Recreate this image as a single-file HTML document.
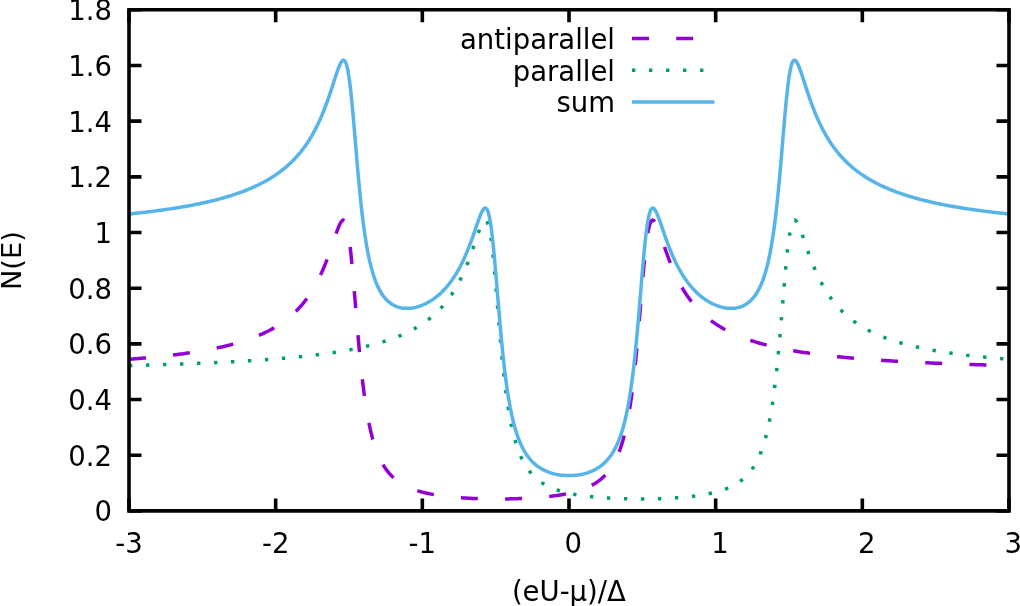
<!DOCTYPE html><html><head><meta charset="utf-8"><style>html,body{margin:0;padding:0;background:#fff;overflow:hidden}svg{display:block}</style></head><body><svg width="1020" height="606" viewBox="0 0 1020 606">
<rect width="1020" height="606" fill="#fff"/>
<path d="M129.00,510.90V498.40M129.00,9.80V22.30M275.67,510.90V498.40M275.67,9.80V22.30M422.33,510.90V498.40M422.33,9.80V22.30M569.00,510.90V498.40M569.00,9.80V22.30M715.67,510.90V498.40M715.67,9.80V22.30M862.33,510.90V498.40M862.33,9.80V22.30M1009.00,510.90V498.40M1009.00,9.80V22.30M129.00,510.90H141.50M1009.00,510.90H996.50M129.00,455.22H141.50M1009.00,455.22H996.50M129.00,399.54H141.50M1009.00,399.54H996.50M129.00,343.87H141.50M1009.00,343.87H996.50M129.00,288.19H141.50M1009.00,288.19H996.50M129.00,232.51H141.50M1009.00,232.51H996.50M129.00,176.83H141.50M1009.00,176.83H996.50M129.00,121.16H141.50M1009.00,121.16H996.50M129.00,65.48H141.50M1009.00,65.48H996.50M129.00,9.80H141.50M1009.00,9.80H996.50" stroke="#000" stroke-width="3.6" fill="none"/>
<g font-family="DejaVu Sans, Liberation Sans, sans-serif" font-size="27.5" fill="#000"><text x="112.00" y="521.40" text-anchor="end">0</text><text x="112.00" y="465.72" text-anchor="end">0.2</text><text x="112.00" y="410.04" text-anchor="end">0.4</text><text x="112.00" y="354.37" text-anchor="end">0.6</text><text x="112.00" y="298.69" text-anchor="end">0.8</text><text x="112.00" y="243.01" text-anchor="end">1</text><text x="112.00" y="187.33" text-anchor="end">1.2</text><text x="112.00" y="131.66" text-anchor="end">1.4</text><text x="112.00" y="75.98" text-anchor="end">1.6</text><text x="112.00" y="20.30" text-anchor="end">1.8</text><text x="129.00" y="553.00" text-anchor="middle">-3</text><text x="275.67" y="553.00" text-anchor="middle">-2</text><text x="422.33" y="553.00" text-anchor="middle">-1</text><text x="573.37" y="553.00" text-anchor="middle">0</text><text x="720.04" y="553.00" text-anchor="middle">1</text><text x="866.70" y="553.00" text-anchor="middle">2</text><text x="1013.37" y="553.00" text-anchor="middle">3</text><text x="568.90" y="601.30" text-anchor="middle">(eU-μ)/Δ</text><text transform="translate(21.00,260.60) rotate(-90)" text-anchor="middle" font-size="27.3">N(E)</text><text x="615.00" y="49.00" text-anchor="end">antiparallel</text><text x="615.00" y="80.70" text-anchor="end">parallel</text><text x="615.00" y="112.40" text-anchor="end">sum</text></g>
<path d="M129.00,359.27 L130.47,359.16 L131.93,359.04 L133.40,358.93 L134.87,358.81 L136.33,358.69 L137.80,358.57 L139.27,358.44 L140.73,358.32 L142.20,358.19 L143.67,358.06 L145.13,357.93 L146.60,357.80 L148.07,357.67 L149.53,357.53 L151.00,357.39 L152.47,357.25 L153.93,357.11 L155.40,356.97 L156.87,356.82 L158.33,356.67 L159.80,356.52 L161.27,356.36 L162.73,356.21 L164.20,356.05 L165.67,355.88 L167.13,355.72 L168.60,355.55 L170.07,355.38 L171.53,355.21 L173.00,355.03 L174.47,354.85 L175.93,354.67 L177.40,354.49 L178.87,354.30 L180.33,354.11 L181.80,353.91 L183.27,353.72 L184.73,353.51 L186.20,353.31 L187.67,353.10 L189.13,352.89 L190.60,352.67 L192.07,352.45 L193.53,352.22 L195.00,351.99 L196.47,351.76 L197.93,351.52 L199.40,351.28 L200.87,351.03 L202.33,350.78 L203.80,350.53 L205.27,350.26 L206.73,350.00 L208.20,349.72 L209.67,349.45 L211.13,349.16 L212.60,348.87 L214.07,348.58 L215.53,348.28 L217.00,347.97 L218.47,347.65 L219.93,347.33 L221.40,347.00 L222.87,346.67 L224.33,346.33 L225.80,345.98 L227.27,345.62 L228.73,345.25 L230.20,344.88 L231.67,344.49 L233.13,344.10 L234.60,343.70 L236.07,343.29 L237.53,342.87 L239.00,342.44 L240.47,341.99 L241.93,341.54 L243.40,341.08 L244.87,340.60 L246.33,340.11 L247.80,339.61 L249.27,339.10 L250.73,338.57 L252.20,338.03 L253.67,337.47 L255.13,336.90 L256.60,336.31 L258.07,335.71 L259.53,335.09 L261.00,334.45 L262.47,333.79 L263.93,333.11 L265.40,332.42 L266.87,331.70 L268.33,330.96 L269.80,330.20 L271.27,329.41 L272.73,328.60 L274.20,327.76 L275.67,326.89 L277.13,326.00 L278.60,325.07 L280.07,324.12 L281.53,323.13 L283.00,322.10 L284.47,321.04 L285.93,319.94 L287.40,318.80 L288.87,317.61 L290.33,316.39 L291.80,315.11 L293.27,313.78 L294.73,312.40 L296.20,310.97 L297.67,309.47 L299.13,307.91 L300.60,306.29 L302.07,304.59 L303.53,302.82 L305.00,300.97 L306.47,299.04 L307.93,297.01 L309.40,294.89 L310.87,292.67 L312.33,290.34 L313.80,287.90 L315.27,285.34 L316.73,282.64 L318.20,279.81 L319.67,276.84 L321.13,273.72 L322.60,270.44 L324.07,267.00 L325.53,263.40 L327.00,259.63 L328.47,255.70 L329.93,251.63 L331.40,247.43 L332.87,243.13 L334.33,238.80 L335.80,234.52 L337.27,230.41 L338.73,226.63 L340.20,223.43 L341.67,221.11 L343.13,220.07 L344.60,220.77 L346.07,223.71 L347.53,229.35 L349.00,238.00 L350.47,249.67 L351.93,264.04 L353.40,280.44 L354.87,298.02 L356.33,315.86 L357.80,333.23 L359.27,349.56 L360.73,364.56 L362.20,378.10 L363.67,390.17 L365.13,400.86 L366.60,410.29 L368.07,418.60 L369.53,425.93 L371.00,432.39 L372.47,438.12 L373.93,443.19 L375.40,447.71 L376.87,451.75 L378.33,455.36 L379.80,458.61 L381.27,461.55 L382.73,464.20 L384.20,466.61 L385.67,468.80 L387.13,470.80 L388.60,472.63 L390.07,474.31 L391.53,475.85 L393.00,477.28 L394.47,478.59 L395.93,479.81 L397.40,480.94 L398.87,481.99 L400.33,482.97 L401.80,483.88 L403.27,484.74 L404.73,485.53 L406.20,486.28 L407.67,486.98 L409.13,487.64 L410.60,488.26 L412.07,488.84 L413.53,489.39 L415.00,489.91 L416.47,490.40 L417.93,490.87 L419.40,491.31 L420.87,491.72 L422.33,492.12 L423.80,492.49 L425.27,492.85 L426.73,493.18 L428.20,493.50 L429.67,493.81 L431.13,494.10 L432.60,494.37 L434.07,494.64 L435.53,494.89 L437.00,495.12 L438.47,495.35 L439.93,495.57 L441.40,495.77 L442.87,495.97 L444.33,496.16 L445.80,496.34 L447.27,496.51 L448.73,496.67 L450.20,496.82 L451.67,496.97 L453.13,497.11 L454.60,497.25 L456.07,497.37 L457.53,497.49 L459.00,497.61 L460.47,497.72 L461.93,497.82 L463.40,497.92 L464.87,498.01 L466.33,498.10 L467.80,498.18 L469.27,498.26 L470.73,498.34 L472.20,498.41 L473.67,498.47 L475.13,498.53 L476.60,498.59 L478.07,498.64 L479.53,498.69 L481.00,498.73 L482.47,498.77 L483.93,498.81 L485.40,498.84 L486.87,498.87 L488.33,498.90 L489.80,498.92 L491.27,498.94 L492.73,498.95 L494.20,498.96 L495.67,498.97 L497.13,498.97 L498.60,498.97 L500.07,498.97 L501.53,498.96 L503.00,498.95 L504.47,498.94 L505.93,498.92 L507.40,498.90 L508.87,498.88 L510.33,498.85 L511.80,498.82 L513.27,498.78 L514.73,498.74 L516.20,498.70 L517.67,498.65 L519.13,498.60 L520.60,498.54 L522.07,498.48 L523.53,498.42 L525.00,498.35 L526.47,498.28 L527.93,498.20 L529.40,498.12 L530.87,498.03 L532.33,497.94 L533.80,497.84 L535.27,497.74 L536.73,497.63 L538.20,497.52 L539.67,497.40 L541.13,497.27 L542.60,497.14 L544.07,497.00 L545.53,496.85 L547.00,496.70 L548.47,496.54 L549.93,496.37 L551.40,496.19 L552.87,496.01 L554.33,495.81 L555.80,495.61 L557.27,495.40 L558.73,495.17 L560.20,494.94 L561.67,494.69 L563.13,494.43 L564.60,494.15 L566.07,493.87 L567.53,493.57 L569.00,493.25 L570.47,492.92 L571.93,492.56 L573.40,492.19 L574.87,491.80 L576.33,491.39 L577.80,490.96 L579.27,490.50 L580.73,490.01 L582.20,489.50 L583.67,488.96 L585.13,488.38 L586.60,487.77 L588.07,487.12 L589.53,486.42 L591.00,485.69 L592.47,484.90 L593.93,484.06 L595.40,483.16 L596.87,482.19 L598.33,481.16 L599.80,480.04 L601.27,478.84 L602.73,477.55 L604.20,476.15 L605.67,474.63 L607.13,472.97 L608.60,471.18 L610.07,469.21 L611.53,467.06 L613.00,464.70 L614.47,462.10 L615.93,459.23 L617.40,456.04 L618.87,452.50 L620.33,448.56 L621.80,444.14 L623.27,439.18 L624.73,433.60 L626.20,427.29 L627.67,420.14 L629.13,412.04 L630.60,402.84 L632.07,392.42 L633.53,380.63 L635.00,367.39 L636.47,352.68 L637.93,336.59 L639.40,319.39 L640.87,301.59 L642.33,283.89 L643.80,267.18 L645.27,252.34 L646.73,240.09 L648.20,230.83 L649.67,224.61 L651.13,221.16 L652.60,220.05 L654.07,220.78 L655.53,222.88 L657.00,225.93 L658.47,229.62 L659.93,233.68 L661.40,237.94 L662.87,242.27 L664.33,246.57 L665.80,250.80 L667.27,254.90 L668.73,258.86 L670.20,262.66 L671.67,266.30 L673.13,269.77 L674.60,273.08 L676.07,276.23 L677.53,279.23 L679.00,282.09 L680.47,284.81 L681.93,287.40 L683.40,289.86 L684.87,292.22 L686.33,294.46 L687.80,296.60 L689.27,298.64 L690.73,300.59 L692.20,302.46 L693.67,304.25 L695.13,305.96 L696.60,307.59 L698.07,309.17 L699.53,310.67 L701.00,312.12 L702.47,313.51 L703.93,314.85 L705.40,316.13 L706.87,317.37 L708.33,318.57 L709.80,319.71 L711.27,320.82 L712.73,321.89 L714.20,322.92 L715.67,323.92 L717.13,324.88 L718.60,325.82 L720.07,326.72 L721.53,327.59 L723.00,328.43 L724.47,329.25 L725.93,330.04 L727.40,330.81 L728.87,331.55 L730.33,332.28 L731.80,332.98 L733.27,333.66 L734.73,334.32 L736.20,334.96 L737.67,335.59 L739.13,336.19 L740.60,336.78 L742.07,337.36 L743.53,337.92 L745.00,338.46 L746.47,338.99 L747.93,339.51 L749.40,340.01 L750.87,340.50 L752.33,340.98 L753.80,341.45 L755.27,341.90 L756.73,342.35 L758.20,342.78 L759.67,343.20 L761.13,343.62 L762.60,344.02 L764.07,344.42 L765.53,344.80 L767.00,345.18 L768.47,345.55 L769.93,345.90 L771.40,346.26 L772.87,346.60 L774.33,346.94 L775.80,347.27 L777.27,347.59 L778.73,347.91 L780.20,348.22 L781.67,348.52 L783.13,348.81 L784.60,349.11 L786.07,349.39 L787.53,349.67 L789.00,349.94 L790.47,350.21 L791.93,350.47 L793.40,350.73 L794.87,350.98 L796.33,351.23 L797.80,351.48 L799.27,351.71 L800.73,351.95 L802.20,352.18 L803.67,352.40 L805.13,352.63 L806.60,352.84 L808.07,353.06 L809.53,353.27 L811.00,353.47 L812.47,353.67 L813.93,353.87 L815.40,354.07 L816.87,354.26 L818.33,354.45 L819.80,354.64 L821.27,354.82 L822.73,355.00 L824.20,355.17 L825.67,355.35 L827.13,355.52 L828.60,355.69 L830.07,355.85 L831.53,356.01 L833.00,356.17 L834.47,356.33 L835.93,356.49 L837.40,356.64 L838.87,356.79 L840.33,356.94 L841.80,357.08 L843.27,357.22 L844.73,357.37 L846.20,357.50 L847.67,357.64 L849.13,357.78 L850.60,357.91 L852.07,358.04 L853.53,358.17 L855.00,358.29 L856.47,358.42 L857.93,358.54 L859.40,358.66 L860.87,358.78 L862.33,358.90 L863.80,359.02 L865.27,359.13 L866.73,359.25 L868.20,359.36 L869.67,359.47 L871.13,359.58 L872.60,359.68 L874.07,359.79 L875.53,359.89 L877.00,359.99 L878.47,360.10 L879.93,360.20 L881.40,360.29 L882.87,360.39 L884.33,360.49 L885.80,360.58 L887.27,360.68 L888.73,360.77 L890.20,360.86 L891.67,360.95 L893.13,361.04 L894.60,361.13 L896.07,361.21 L897.53,361.30 L899.00,361.38 L900.47,361.47 L901.93,361.55 L903.40,361.63 L904.87,361.71 L906.33,361.79 L907.80,361.87 L909.27,361.94 L910.73,362.02 L912.20,362.10 L913.67,362.17 L915.13,362.24 L916.60,362.32 L918.07,362.39 L919.53,362.46 L921.00,362.53 L922.47,362.60 L923.93,362.67 L925.40,362.74 L926.87,362.80 L928.33,362.87 L929.80,362.93 L931.27,363.00 L932.73,363.06 L934.20,363.13 L935.67,363.19 L937.13,363.25 L938.60,363.31 L940.07,363.37 L941.53,363.43 L943.00,363.49 L944.47,363.55 L945.93,363.61 L947.40,363.67 L948.87,363.72 L950.33,363.78 L951.80,363.83 L953.27,363.89 L954.73,363.94 L956.20,364.00 L957.67,364.05 L959.13,364.10 L960.60,364.15 L962.07,364.21 L963.53,364.26 L965.00,364.31 L966.47,364.36 L967.93,364.41 L969.40,364.45 L970.87,364.50 L972.33,364.55 L973.80,364.60 L975.27,364.64 L976.73,364.69 L978.20,364.74 L979.67,364.78 L981.13,364.83 L982.60,364.87 L984.07,364.92 L985.53,364.96 L987.00,365.00 L988.47,365.05 L989.93,365.09 L991.40,365.13 L992.87,365.17 L994.33,365.21 L995.80,365.25 L997.27,365.29 L998.73,365.33 L1000.20,365.37 L1001.67,365.41 L1003.13,365.45 L1004.60,365.49 L1006.07,365.53 L1007.53,365.57 L1009.00,365.60" stroke="#9400d3" stroke-width="3.5" fill="none" stroke-linejoin="miter" stroke-miterlimit="3.8" stroke-dasharray="17.008 27.212"/>
<path d="M632.00,38.60H714.40" stroke="#9400d3" stroke-width="3.5" fill="none" stroke-dasharray="17.008 27.212"/>
<path d="M129.00,365.60 L130.47,365.57 L131.93,365.53 L133.40,365.49 L134.87,365.45 L136.33,365.41 L137.80,365.37 L139.27,365.33 L140.73,365.29 L142.20,365.25 L143.67,365.21 L145.13,365.17 L146.60,365.13 L148.07,365.09 L149.53,365.05 L151.00,365.00 L152.47,364.96 L153.93,364.92 L155.40,364.87 L156.87,364.83 L158.33,364.78 L159.80,364.74 L161.27,364.69 L162.73,364.64 L164.20,364.60 L165.67,364.55 L167.13,364.50 L168.60,364.45 L170.07,364.41 L171.53,364.36 L173.00,364.31 L174.47,364.26 L175.93,364.21 L177.40,364.15 L178.87,364.10 L180.33,364.05 L181.80,364.00 L183.27,363.94 L184.73,363.89 L186.20,363.83 L187.67,363.78 L189.13,363.72 L190.60,363.67 L192.07,363.61 L193.53,363.55 L195.00,363.49 L196.47,363.43 L197.93,363.37 L199.40,363.31 L200.87,363.25 L202.33,363.19 L203.80,363.13 L205.27,363.06 L206.73,363.00 L208.20,362.93 L209.67,362.87 L211.13,362.80 L212.60,362.74 L214.07,362.67 L215.53,362.60 L217.00,362.53 L218.47,362.46 L219.93,362.39 L221.40,362.32 L222.87,362.24 L224.33,362.17 L225.80,362.10 L227.27,362.02 L228.73,361.94 L230.20,361.87 L231.67,361.79 L233.13,361.71 L234.60,361.63 L236.07,361.55 L237.53,361.47 L239.00,361.38 L240.47,361.30 L241.93,361.21 L243.40,361.13 L244.87,361.04 L246.33,360.95 L247.80,360.86 L249.27,360.77 L250.73,360.68 L252.20,360.58 L253.67,360.49 L255.13,360.39 L256.60,360.29 L258.07,360.20 L259.53,360.10 L261.00,359.99 L262.47,359.89 L263.93,359.79 L265.40,359.68 L266.87,359.58 L268.33,359.47 L269.80,359.36 L271.27,359.25 L272.73,359.13 L274.20,359.02 L275.67,358.90 L277.13,358.78 L278.60,358.66 L280.07,358.54 L281.53,358.42 L283.00,358.29 L284.47,358.17 L285.93,358.04 L287.40,357.91 L288.87,357.78 L290.33,357.64 L291.80,357.50 L293.27,357.37 L294.73,357.22 L296.20,357.08 L297.67,356.94 L299.13,356.79 L300.60,356.64 L302.07,356.49 L303.53,356.33 L305.00,356.17 L306.47,356.01 L307.93,355.85 L309.40,355.69 L310.87,355.52 L312.33,355.35 L313.80,355.17 L315.27,355.00 L316.73,354.82 L318.20,354.64 L319.67,354.45 L321.13,354.26 L322.60,354.07 L324.07,353.87 L325.53,353.67 L327.00,353.47 L328.47,353.27 L329.93,353.06 L331.40,352.84 L332.87,352.63 L334.33,352.40 L335.80,352.18 L337.27,351.95 L338.73,351.71 L340.20,351.48 L341.67,351.23 L343.13,350.98 L344.60,350.73 L346.07,350.47 L347.53,350.21 L349.00,349.94 L350.47,349.67 L351.93,349.39 L353.40,349.11 L354.87,348.81 L356.33,348.52 L357.80,348.22 L359.27,347.91 L360.73,347.59 L362.20,347.27 L363.67,346.94 L365.13,346.60 L366.60,346.26 L368.07,345.90 L369.53,345.55 L371.00,345.18 L372.47,344.80 L373.93,344.42 L375.40,344.02 L376.87,343.62 L378.33,343.20 L379.80,342.78 L381.27,342.35 L382.73,341.90 L384.20,341.45 L385.67,340.98 L387.13,340.50 L388.60,340.01 L390.07,339.51 L391.53,338.99 L393.00,338.46 L394.47,337.92 L395.93,337.36 L397.40,336.78 L398.87,336.19 L400.33,335.59 L401.80,334.96 L403.27,334.32 L404.73,333.66 L406.20,332.98 L407.67,332.28 L409.13,331.55 L410.60,330.81 L412.07,330.04 L413.53,329.25 L415.00,328.43 L416.47,327.59 L417.93,326.72 L419.40,325.82 L420.87,324.88 L422.33,323.92 L423.80,322.92 L425.27,321.89 L426.73,320.82 L428.20,319.71 L429.67,318.57 L431.13,317.37 L432.60,316.13 L434.07,314.85 L435.53,313.51 L437.00,312.12 L438.47,310.67 L439.93,309.17 L441.40,307.59 L442.87,305.96 L444.33,304.25 L445.80,302.46 L447.27,300.59 L448.73,298.64 L450.20,296.60 L451.67,294.46 L453.13,292.22 L454.60,289.86 L456.07,287.40 L457.53,284.81 L459.00,282.09 L460.47,279.23 L461.93,276.23 L463.40,273.08 L464.87,269.77 L466.33,266.30 L467.80,262.66 L469.27,258.86 L470.73,254.90 L472.20,250.80 L473.67,246.57 L475.13,242.27 L476.60,237.94 L478.07,233.68 L479.53,229.62 L481.00,225.93 L482.47,222.88 L483.93,220.78 L485.40,220.05 L486.87,221.16 L488.33,224.61 L489.80,230.83 L491.27,240.09 L492.73,252.34 L494.20,267.18 L495.67,283.89 L497.13,301.59 L498.60,319.39 L500.07,336.59 L501.53,352.68 L503.00,367.39 L504.47,380.63 L505.93,392.42 L507.40,402.84 L508.87,412.04 L510.33,420.14 L511.80,427.29 L513.27,433.60 L514.73,439.18 L516.20,444.14 L517.67,448.56 L519.13,452.50 L520.60,456.04 L522.07,459.23 L523.53,462.10 L525.00,464.70 L526.47,467.06 L527.93,469.21 L529.40,471.18 L530.87,472.97 L532.33,474.63 L533.80,476.15 L535.27,477.55 L536.73,478.84 L538.20,480.04 L539.67,481.16 L541.13,482.19 L542.60,483.16 L544.07,484.06 L545.53,484.90 L547.00,485.69 L548.47,486.42 L549.93,487.12 L551.40,487.77 L552.87,488.38 L554.33,488.96 L555.80,489.50 L557.27,490.01 L558.73,490.50 L560.20,490.96 L561.67,491.39 L563.13,491.80 L564.60,492.19 L566.07,492.56 L567.53,492.92 L569.00,493.25 L570.47,493.57 L571.93,493.87 L573.40,494.15 L574.87,494.43 L576.33,494.69 L577.80,494.94 L579.27,495.17 L580.73,495.40 L582.20,495.61 L583.67,495.81 L585.13,496.01 L586.60,496.19 L588.07,496.37 L589.53,496.54 L591.00,496.70 L592.47,496.85 L593.93,497.00 L595.40,497.14 L596.87,497.27 L598.33,497.40 L599.80,497.52 L601.27,497.63 L602.73,497.74 L604.20,497.84 L605.67,497.94 L607.13,498.03 L608.60,498.12 L610.07,498.20 L611.53,498.28 L613.00,498.35 L614.47,498.42 L615.93,498.48 L617.40,498.54 L618.87,498.60 L620.33,498.65 L621.80,498.70 L623.27,498.74 L624.73,498.78 L626.20,498.82 L627.67,498.85 L629.13,498.88 L630.60,498.90 L632.07,498.92 L633.53,498.94 L635.00,498.95 L636.47,498.96 L637.93,498.97 L639.40,498.97 L640.87,498.97 L642.33,498.97 L643.80,498.96 L645.27,498.95 L646.73,498.94 L648.20,498.92 L649.67,498.90 L651.13,498.87 L652.60,498.84 L654.07,498.81 L655.53,498.77 L657.00,498.73 L658.47,498.69 L659.93,498.64 L661.40,498.59 L662.87,498.53 L664.33,498.47 L665.80,498.41 L667.27,498.34 L668.73,498.26 L670.20,498.18 L671.67,498.10 L673.13,498.01 L674.60,497.92 L676.07,497.82 L677.53,497.72 L679.00,497.61 L680.47,497.49 L681.93,497.37 L683.40,497.25 L684.87,497.11 L686.33,496.97 L687.80,496.82 L689.27,496.67 L690.73,496.51 L692.20,496.34 L693.67,496.16 L695.13,495.97 L696.60,495.77 L698.07,495.57 L699.53,495.35 L701.00,495.12 L702.47,494.89 L703.93,494.64 L705.40,494.37 L706.87,494.10 L708.33,493.81 L709.80,493.50 L711.27,493.18 L712.73,492.85 L714.20,492.49 L715.67,492.12 L717.13,491.72 L718.60,491.31 L720.07,490.87 L721.53,490.40 L723.00,489.91 L724.47,489.39 L725.93,488.84 L727.40,488.26 L728.87,487.64 L730.33,486.98 L731.80,486.28 L733.27,485.53 L734.73,484.74 L736.20,483.88 L737.67,482.97 L739.13,481.99 L740.60,480.94 L742.07,479.81 L743.53,478.59 L745.00,477.28 L746.47,475.85 L747.93,474.31 L749.40,472.63 L750.87,470.80 L752.33,468.80 L753.80,466.61 L755.27,464.20 L756.73,461.55 L758.20,458.61 L759.67,455.36 L761.13,451.75 L762.60,447.71 L764.07,443.19 L765.53,438.12 L767.00,432.39 L768.47,425.93 L769.93,418.60 L771.40,410.29 L772.87,400.86 L774.33,390.17 L775.80,378.10 L777.27,364.56 L778.73,349.56 L780.20,333.23 L781.67,315.86 L783.13,298.02 L784.60,280.44 L786.07,264.04 L787.53,249.67 L789.00,238.00 L790.47,229.35 L791.93,223.71 L793.40,220.77 L794.87,220.07 L796.33,221.11 L797.80,223.43 L799.27,226.63 L800.73,230.41 L802.20,234.52 L803.67,238.80 L805.13,243.13 L806.60,247.43 L808.07,251.63 L809.53,255.70 L811.00,259.63 L812.47,263.40 L813.93,267.00 L815.40,270.44 L816.87,273.72 L818.33,276.84 L819.80,279.81 L821.27,282.64 L822.73,285.34 L824.20,287.90 L825.67,290.34 L827.13,292.67 L828.60,294.89 L830.07,297.01 L831.53,299.04 L833.00,300.97 L834.47,302.82 L835.93,304.59 L837.40,306.29 L838.87,307.91 L840.33,309.47 L841.80,310.97 L843.27,312.40 L844.73,313.78 L846.20,315.11 L847.67,316.39 L849.13,317.61 L850.60,318.80 L852.07,319.94 L853.53,321.04 L855.00,322.10 L856.47,323.13 L857.93,324.12 L859.40,325.07 L860.87,326.00 L862.33,326.89 L863.80,327.76 L865.27,328.60 L866.73,329.41 L868.20,330.20 L869.67,330.96 L871.13,331.70 L872.60,332.42 L874.07,333.11 L875.53,333.79 L877.00,334.45 L878.47,335.09 L879.93,335.71 L881.40,336.31 L882.87,336.90 L884.33,337.47 L885.80,338.03 L887.27,338.57 L888.73,339.10 L890.20,339.61 L891.67,340.11 L893.13,340.60 L894.60,341.08 L896.07,341.54 L897.53,341.99 L899.00,342.44 L900.47,342.87 L901.93,343.29 L903.40,343.70 L904.87,344.10 L906.33,344.49 L907.80,344.88 L909.27,345.25 L910.73,345.62 L912.20,345.98 L913.67,346.33 L915.13,346.67 L916.60,347.00 L918.07,347.33 L919.53,347.65 L921.00,347.97 L922.47,348.28 L923.93,348.58 L925.40,348.87 L926.87,349.16 L928.33,349.45 L929.80,349.72 L931.27,350.00 L932.73,350.26 L934.20,350.53 L935.67,350.78 L937.13,351.03 L938.60,351.28 L940.07,351.52 L941.53,351.76 L943.00,351.99 L944.47,352.22 L945.93,352.45 L947.40,352.67 L948.87,352.89 L950.33,353.10 L951.80,353.31 L953.27,353.51 L954.73,353.72 L956.20,353.91 L957.67,354.11 L959.13,354.30 L960.60,354.49 L962.07,354.67 L963.53,354.85 L965.00,355.03 L966.47,355.21 L967.93,355.38 L969.40,355.55 L970.87,355.72 L972.33,355.88 L973.80,356.05 L975.27,356.21 L976.73,356.36 L978.20,356.52 L979.67,356.67 L981.13,356.82 L982.60,356.97 L984.07,357.11 L985.53,357.25 L987.00,357.39 L988.47,357.53 L989.93,357.67 L991.40,357.80 L992.87,357.93 L994.33,358.06 L995.80,358.19 L997.27,358.32 L998.73,358.44 L1000.20,358.57 L1001.67,358.69 L1003.13,358.81 L1004.60,358.93 L1006.07,359.04 L1007.53,359.16 L1009.00,359.27" stroke="#009e73" stroke-width="3.5" fill="none" stroke-linejoin="miter" stroke-miterlimit="3.8" stroke-dasharray="3.401 13.606"/>
<path d="M632.00,70.30H714.40" stroke="#009e73" stroke-width="3.5" fill="none" stroke-dasharray="3.401 13.606"/>
<path d="M129.00,213.97 L130.47,213.82 L131.93,213.67 L133.40,213.52 L134.87,213.36 L136.33,213.20 L137.80,213.04 L139.27,212.88 L140.73,212.71 L142.20,212.55 L143.67,212.38 L145.13,212.21 L146.60,212.03 L148.07,211.86 L149.53,211.68 L151.00,211.50 L152.47,211.31 L153.93,211.13 L155.40,210.94 L156.87,210.75 L158.33,210.55 L159.80,210.35 L161.27,210.15 L162.73,209.95 L164.20,209.74 L165.67,209.53 L167.13,209.32 L168.60,209.11 L170.07,208.89 L171.53,208.67 L173.00,208.44 L174.47,208.21 L175.93,207.98 L177.40,207.74 L178.87,207.50 L180.33,207.26 L181.80,207.01 L183.27,206.76 L184.73,206.50 L186.20,206.24 L187.67,205.98 L189.13,205.71 L190.60,205.43 L192.07,205.16 L193.53,204.87 L195.00,204.59 L196.47,204.29 L197.93,204.00 L199.40,203.69 L200.87,203.38 L202.33,203.07 L203.80,202.75 L205.27,202.43 L206.73,202.10 L208.20,201.76 L209.67,201.42 L211.13,201.07 L212.60,200.71 L214.07,200.35 L215.53,199.98 L217.00,199.60 L218.47,199.21 L219.93,198.82 L221.40,198.42 L222.87,198.01 L224.33,197.60 L225.80,197.17 L227.27,196.74 L228.73,196.29 L230.20,195.84 L231.67,195.38 L233.13,194.91 L234.60,194.43 L236.07,193.94 L237.53,193.43 L239.00,192.92 L240.47,192.39 L241.93,191.85 L243.40,191.30 L244.87,190.74 L246.33,190.16 L247.80,189.57 L249.27,188.97 L250.73,188.35 L252.20,187.71 L253.67,187.06 L255.13,186.39 L256.60,185.71 L258.07,185.01 L259.53,184.28 L261.00,183.54 L262.47,182.78 L263.93,182.00 L265.40,181.20 L266.87,180.38 L268.33,179.53 L269.80,178.65 L271.27,177.76 L272.73,176.83 L274.20,175.88 L275.67,174.89 L277.13,173.88 L278.60,172.84 L280.07,171.76 L281.53,170.65 L283.00,169.50 L284.47,168.31 L285.93,167.08 L287.40,165.81 L288.87,164.49 L290.33,163.13 L291.80,161.71 L293.27,160.25 L294.73,158.73 L296.20,157.15 L297.67,155.51 L299.13,153.80 L300.60,152.03 L302.07,150.18 L303.53,148.25 L305.00,146.25 L306.47,144.15 L307.93,141.96 L309.40,139.68 L310.87,137.29 L312.33,134.79 L313.80,132.17 L315.27,129.43 L316.73,126.56 L318.20,123.55 L319.67,120.39 L321.13,117.08 L322.60,113.61 L324.07,109.98 L325.53,106.17 L327.00,102.20 L328.47,98.07 L329.93,93.79 L331.40,89.37 L332.87,84.86 L334.33,80.31 L335.80,75.80 L337.27,71.45 L338.73,67.44 L340.20,64.00 L341.67,61.44 L343.13,60.15 L344.60,60.60 L346.07,63.28 L347.53,68.66 L349.00,77.04 L350.47,88.44 L351.93,102.53 L353.40,118.65 L354.87,135.93 L356.33,153.48 L357.80,170.54 L359.27,186.57 L360.73,201.26 L362.20,214.47 L363.67,226.21 L365.13,236.56 L366.60,245.65 L368.07,253.61 L369.53,260.57 L371.00,266.67 L372.47,272.02 L373.93,276.71 L375.40,280.83 L376.87,284.47 L378.33,287.67 L379.80,290.50 L381.27,292.99 L382.73,295.20 L384.20,297.15 L385.67,298.88 L387.13,300.40 L388.60,301.74 L390.07,302.92 L391.53,303.94 L393.00,304.84 L394.47,305.61 L395.93,306.27 L397.40,306.82 L398.87,307.28 L400.33,307.66 L401.80,307.94 L403.27,308.15 L404.73,308.29 L406.20,308.36 L407.67,308.36 L409.13,308.29 L410.60,308.17 L412.07,307.99 L413.53,307.74 L415.00,307.45 L416.47,307.09 L417.93,306.68 L419.40,306.22 L420.87,305.71 L422.33,305.14 L423.80,304.52 L425.27,303.84 L426.73,303.11 L428.20,302.32 L429.67,301.47 L431.13,300.57 L432.60,299.61 L434.07,298.59 L435.53,297.50 L437.00,296.35 L438.47,295.12 L439.93,293.83 L441.40,292.47 L442.87,291.03 L444.33,289.50 L445.80,287.90 L447.27,286.20 L448.73,284.41 L450.20,282.52 L451.67,280.53 L453.13,278.43 L454.60,276.21 L456.07,273.87 L457.53,271.40 L459.00,268.80 L460.47,266.05 L461.93,263.15 L463.40,260.10 L464.87,256.88 L466.33,253.50 L467.80,249.94 L469.27,246.22 L470.73,242.34 L472.20,238.30 L473.67,234.14 L475.13,229.90 L476.60,225.63 L478.07,221.42 L479.53,217.41 L481.00,213.77 L482.47,210.75 L483.93,208.69 L485.40,207.99 L486.87,209.13 L488.33,212.60 L489.80,218.85 L491.27,228.13 L492.73,240.39 L494.20,255.24 L495.67,271.96 L497.13,289.66 L498.60,307.47 L500.07,324.66 L501.53,340.74 L503.00,355.44 L504.47,368.67 L505.93,380.44 L507.40,390.84 L508.87,400.02 L510.33,408.09 L511.80,415.20 L513.27,421.48 L514.73,427.02 L516.20,431.94 L517.67,436.31 L519.13,440.20 L520.60,443.68 L522.07,446.81 L523.53,449.62 L525.00,452.15 L526.47,454.44 L527.93,456.51 L529.40,458.39 L530.87,460.11 L532.33,461.67 L533.80,463.09 L535.27,464.39 L536.73,465.57 L538.20,466.66 L539.67,467.65 L541.13,468.56 L542.60,469.40 L544.07,470.16 L545.53,470.85 L547.00,471.49 L548.47,472.06 L549.93,472.59 L551.40,473.06 L552.87,473.49 L554.33,473.87 L555.80,474.21 L557.27,474.51 L558.73,474.77 L560.20,474.99 L561.67,475.18 L563.13,475.33 L564.60,475.45 L566.07,475.53 L567.53,475.58 L569.00,475.60 L570.47,475.58 L571.93,475.53 L573.40,475.45 L574.87,475.33 L576.33,475.18 L577.80,474.99 L579.27,474.77 L580.73,474.51 L582.20,474.21 L583.67,473.87 L585.13,473.49 L586.60,473.06 L588.07,472.59 L589.53,472.06 L591.00,471.49 L592.47,470.85 L593.93,470.16 L595.40,469.40 L596.87,468.56 L598.33,467.65 L599.80,466.66 L601.27,465.57 L602.73,464.39 L604.20,463.09 L605.67,461.67 L607.13,460.11 L608.60,458.39 L610.07,456.51 L611.53,454.44 L613.00,452.15 L614.47,449.62 L615.93,446.81 L617.40,443.68 L618.87,440.20 L620.33,436.31 L621.80,431.94 L623.27,427.02 L624.73,421.48 L626.20,415.20 L627.67,408.09 L629.13,400.02 L630.60,390.84 L632.07,380.44 L633.53,368.67 L635.00,355.44 L636.47,340.74 L637.93,324.66 L639.40,307.47 L640.87,289.66 L642.33,271.96 L643.80,255.24 L645.27,240.39 L646.73,228.13 L648.20,218.85 L649.67,212.60 L651.13,209.13 L652.60,207.99 L654.07,208.69 L655.53,210.75 L657.00,213.77 L658.47,217.41 L659.93,221.42 L661.40,225.63 L662.87,229.90 L664.33,234.14 L665.80,238.30 L667.27,242.34 L668.73,246.22 L670.20,249.94 L671.67,253.50 L673.13,256.88 L674.60,260.10 L676.07,263.15 L677.53,266.05 L679.00,268.80 L680.47,271.40 L681.93,273.87 L683.40,276.21 L684.87,278.43 L686.33,280.53 L687.80,282.52 L689.27,284.41 L690.73,286.20 L692.20,287.90 L693.67,289.50 L695.13,291.03 L696.60,292.47 L698.07,293.83 L699.53,295.12 L701.00,296.35 L702.47,297.50 L703.93,298.59 L705.40,299.61 L706.87,300.57 L708.33,301.47 L709.80,302.32 L711.27,303.11 L712.73,303.84 L714.20,304.52 L715.67,305.14 L717.13,305.71 L718.60,306.22 L720.07,306.68 L721.53,307.09 L723.00,307.45 L724.47,307.74 L725.93,307.99 L727.40,308.17 L728.87,308.29 L730.33,308.36 L731.80,308.36 L733.27,308.29 L734.73,308.15 L736.20,307.94 L737.67,307.66 L739.13,307.28 L740.60,306.82 L742.07,306.27 L743.53,305.61 L745.00,304.84 L746.47,303.94 L747.93,302.92 L749.40,301.74 L750.87,300.40 L752.33,298.88 L753.80,297.15 L755.27,295.20 L756.73,292.99 L758.20,290.50 L759.67,287.67 L761.13,284.47 L762.60,280.83 L764.07,276.71 L765.53,272.02 L767.00,266.67 L768.47,260.57 L769.93,253.61 L771.40,245.65 L772.87,236.56 L774.33,226.21 L775.80,214.47 L777.27,201.26 L778.73,186.57 L780.20,170.54 L781.67,153.48 L783.13,135.93 L784.60,118.65 L786.07,102.53 L787.53,88.44 L789.00,77.04 L790.47,68.66 L791.93,63.28 L793.40,60.60 L794.87,60.15 L796.33,61.44 L797.80,64.00 L799.27,67.44 L800.73,71.45 L802.20,75.80 L803.67,80.31 L805.13,84.86 L806.60,89.37 L808.07,93.79 L809.53,98.07 L811.00,102.20 L812.47,106.17 L813.93,109.98 L815.40,113.61 L816.87,117.08 L818.33,120.39 L819.80,123.55 L821.27,126.56 L822.73,129.43 L824.20,132.17 L825.67,134.79 L827.13,137.29 L828.60,139.68 L830.07,141.96 L831.53,144.15 L833.00,146.25 L834.47,148.25 L835.93,150.18 L837.40,152.03 L838.87,153.80 L840.33,155.51 L841.80,157.15 L843.27,158.73 L844.73,160.25 L846.20,161.71 L847.67,163.13 L849.13,164.49 L850.60,165.81 L852.07,167.08 L853.53,168.31 L855.00,169.50 L856.47,170.65 L857.93,171.76 L859.40,172.84 L860.87,173.88 L862.33,174.89 L863.80,175.88 L865.27,176.83 L866.73,177.76 L868.20,178.65 L869.67,179.53 L871.13,180.38 L872.60,181.20 L874.07,182.00 L875.53,182.78 L877.00,183.54 L878.47,184.28 L879.93,185.01 L881.40,185.71 L882.87,186.39 L884.33,187.06 L885.80,187.71 L887.27,188.35 L888.73,188.97 L890.20,189.57 L891.67,190.16 L893.13,190.74 L894.60,191.30 L896.07,191.85 L897.53,192.39 L899.00,192.92 L900.47,193.43 L901.93,193.94 L903.40,194.43 L904.87,194.91 L906.33,195.38 L907.80,195.84 L909.27,196.29 L910.73,196.74 L912.20,197.17 L913.67,197.60 L915.13,198.01 L916.60,198.42 L918.07,198.82 L919.53,199.21 L921.00,199.60 L922.47,199.98 L923.93,200.35 L925.40,200.71 L926.87,201.07 L928.33,201.42 L929.80,201.76 L931.27,202.10 L932.73,202.43 L934.20,202.75 L935.67,203.07 L937.13,203.38 L938.60,203.69 L940.07,204.00 L941.53,204.29 L943.00,204.59 L944.47,204.87 L945.93,205.16 L947.40,205.43 L948.87,205.71 L950.33,205.98 L951.80,206.24 L953.27,206.50 L954.73,206.76 L956.20,207.01 L957.67,207.26 L959.13,207.50 L960.60,207.74 L962.07,207.98 L963.53,208.21 L965.00,208.44 L966.47,208.67 L967.93,208.89 L969.40,209.11 L970.87,209.32 L972.33,209.53 L973.80,209.74 L975.27,209.95 L976.73,210.15 L978.20,210.35 L979.67,210.55 L981.13,210.75 L982.60,210.94 L984.07,211.13 L985.53,211.31 L987.00,211.50 L988.47,211.68 L989.93,211.86 L991.40,212.03 L992.87,212.21 L994.33,212.38 L995.80,212.55 L997.27,212.71 L998.73,212.88 L1000.20,213.04 L1001.67,213.20 L1003.13,213.36 L1004.60,213.52 L1006.07,213.67 L1007.53,213.82 L1009.00,213.97" stroke="#56b4e9" stroke-width="3.5" fill="none" stroke-linejoin="miter" stroke-miterlimit="3.8" />
<path d="M632.00,102.00H714.40" stroke="#56b4e9" stroke-width="3.5" fill="none" />
<path d="M127.20,8.00H1010.80V512.70H127.20ZM130.80,11.60V509.10H1007.20V11.60Z" fill="#000" fill-rule="evenodd"/>
</svg></body></html>
